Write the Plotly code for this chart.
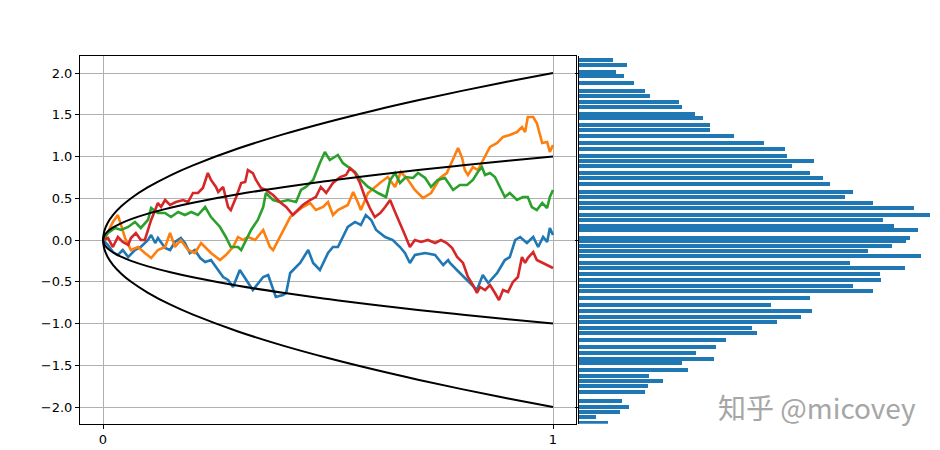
import plotly.graph_objects as go

# ---------------- data ----------------
# black envelope curves
bound_t = [0, 0.0025, 0.01, 0.0225, 0.04, 0.0625, 0.1, 0.15, 0.2, 0.3, 0.4, 0.5, 0.6, 0.7, 0.8, 0.9, 1.0]
outer_hi = [0, 0.1, 0.2, 0.3, 0.4, 0.5, 0.632, 0.775, 0.894, 1.095, 1.265, 1.414, 1.549, 1.673, 1.789, 1.897, 2.0]
outer_lo = [0, -0.1, -0.2, -0.3, -0.4, -0.5, -0.632, -0.775, -0.894, -1.095, -1.265, -1.414, -1.549, -1.673, -1.789, -1.897, -2.0]
inner_hi = [0, 0.05, 0.1, 0.15, 0.2, 0.25, 0.316, 0.387, 0.447, 0.548, 0.632, 0.707, 0.775, 0.837, 0.894, 0.949, 1.0]
inner_lo = [0, -0.05, -0.1, -0.15, -0.2, -0.25, -0.316, -0.387, -0.447, -0.548, -0.632, -0.707, -0.775, -0.837, -0.894, -0.949, -1.0]

blue_t = [0, .011, .022, .033, .044, .056, .071, .084, .1, .107, .116, .122, .138, .149, .160, .173, .182, .193, .204, .216,
          .227, .240, .251, .267, .278, .289, .304, .318, .333, .356, .367, .384, .4, .407, .416, .438, .456, .467, .482, .5,
          .511, .522, .544, .560, .573, .584, .596, .607, .627, .644, .66, .671, .682, .693, .716, .738, .756, .767, .771, .793,
          .816, .831, .844, .856, .876, .893, .904, .916, .927, .942, .956, .967, .978, .987, .993, 1.0]
blue_v = [0, -.06, -.144, -.18, -.12, -.204, -.12, -.084, 0, .06, -.036, .024, -.096, -.12, -.024, .024, -.036, -.156, -.12, -.216,
          -.263, -.24, -.323, -.443, -.479, -.563, -.359, -.479, -.599, -.443, -.419, -.683, -.659, -.635, -.395, -.275, -.12, -.275, -.359, -.156,
          -.084, -.084, .156, .216, .18, .299, .24, .12, .036, 0, -.084, -.156, -.275, -.18, -.156, -.18, -.299, -.24, -.275, -.395,
          -.515, -.599, -.419, -.515, -.395, -.24, -.204, 0, .036, -.036, .036, -.084, .036, -.024, .144, .06]

orange_t = [0, .011, .022, .033, .040, .049, .062, .078, .093, .107, .122, .138, .149, .160, .173, .189, .204, .218, .240, .260,
            .273, .289, .300, .311, .322, .338, .356, .371, .378, .389, .400, .416, .429, .444, .460, .473, .489, .500, .511, .522,
            .544, .556, .567, .573, .589, .604, .618, .633, .649, .662, .678, .693, .711, .729, .749, .764, .778, .789, .798, .804,
            .811, .822, .833, .844, .860, .876, .889, .904, .920, .931, .938, .944, .956, .964, .976, .987, .993, 1.0]
orange_v = [0, .096, .216, .299, .18, .024, -.12, -.084, -.156, -.216, -.12, -.084, .084, -.084, 0, -.12, -.156, -.036, -.156, -.24,
            -.18, -.084, .036, 0, .036, 0, .12, -.084, -.12, 0, .12, .275, .335, .395, .443, .359, .395, .455, .299, .359,
            .419, .575, .443, .359, .563, .635, .695, .754, .635, .814, .719, .599, .503, .563, .743, .802, .982, 1.102, .982, .838,
            .778, .874, .838, .958, 1.114, 1.162, 1.234, 1.257, 1.293, 1.353, 1.293, 1.473, 1.473, 1.401, 1.162, 1.174, 1.054, 1.138]

green_t = [0, .011, .027, .040, .056, .071, .084, .100, .107, .122, .138, .151, .167, .182, .196, .211, .227, .240, .260, .273,
           .284, .300, .307, .318, .329, .344, .356, .362, .378, .393, .411, .429, .440, .451, .467, .482, .493, .504, .522, .533,
           .544, .560, .573, .589, .600, .611, .629, .638, .649, .660, .673, .689, .700, .716, .729, .744, .760, .778, .793, .809,
           .822, .833, .842, .849, .860, .871, .882, .893, .904, .920, .933, .944, .953, .964, .976, .987, .993, 1.0]
green_v = [0, .084, .144, .12, .156, .216, .144, .24, .383, .323, .323, .275, .335, .299, .335, .299, .395, .275, .156, .036,
           -.084, -.084, -.12, 0, .12, .24, .395, .563, .479, .455, .479, .455, .599, .635, .719, .922, 1.054, .958, 1.018, .922,
           .874, .814, .719, .635, .599, .563, .515, .719, .802, .683, .754, .743, .802, .743, .635, .719, .743, .599, .659, .659,
           .719, .814, .874, .778, .802, .754, .635, .515, .563, .479, .515, .515, .395, .359, .443, .383, .515, .599]

red_t = [0, .011, .022, .033, .044, .056, .062, .073, .084, .093, .100, .107, .116, .122, .129, .138, .149, .162, .178, .189,
         .200, .211, .222, .233, .240, .251, .256, .267, .278, .284, .296, .307, .316, .322, .333, .340, .351, .362, .378, .393,
         .407, .422, .433, .444, .460, .473, .484, .496, .511, .527, .540, .549, .560, .571, .582, .593, .604, .616, .627, .638,
         .649, .660, .671, .682, .693, .707, .722, .738, .751, .764, .776, .787, .800, .811, .822, .831, .838, .849, .860, .871,
         .880, .889, .900, .911, .922, .931, .938, .944, .956, .964, .976, .987, 1.0]
red_v = [0, .024, -.084, .036, -.024, -.06, .024, .084, 0, 0, .12, .24, .359, .443, .395, .479, .419, .455, .479, .455,
         .563, .563, .623, .802, .719, .635, .575, .635, .395, .359, .515, .683, .695, .838, .802, .719, .623, .599, .539, .455,
         .395, .299, .359, .419, .479, .515, .635, .563, .683, .754, .778, .862, .802, .683, .515, .383, .275, .323, .395, .479,
         .335, .204, .06, -.084, 0, -.024, 0, -.036, 0, -.036, -.096, -.204, -.275, -.443, -.539, -.635, -.563, -.599, -.539, -.635,
         -.719, -.599, -.623, -.503, -.443, -.204, -.275, -.216, -.144, -.24, -.275, -.299, -.335]

# histogram panel: bin centres and bar lengths
hist_centers = [2.156, 2.096, 2.012, 1.964, 1.880, 1.784, 1.725, 1.653, 1.593, 1.509,
                1.461, 1.377, 1.317, 1.246, 1.162, 1.090, 1.006, 0.946, 0.886, 0.802,
                0.743, 0.671, 0.575, 0.515, 0.443, 0.383, 0.299, 0.240, 0.168, 0.120,
                0.024, -0.012, -0.072, -0.132, -0.192, -0.275, -0.335, -0.407, -0.479, -0.551,
                -0.611, -0.695, -0.778, -0.850, -0.922, -0.982, -1.054, -1.114, -1.198, -1.281,
                -1.353, -1.425, -1.473, -1.557, -1.629, -1.689, -1.749, -1.820, -1.928, -2.000,
                -2.060, -2.120, -2.192]
hist_counts = [34, 48, 37, 45, 55, 66, 71, 100, 103, 116,
               124, 131, 131, 155, 185, 206, 208, 235, 213, 231,
               244, 251, 274, 266, 294, 335, 351, 304, 315, 339,
               331, 327, 313, 289, 342, 271, 326, 301, 302, 274,
               294, 231, 192, 233, 222, 198, 173, 178, 147, 137,
               117, 135, 103, 109, 70, 84, 69, 66, 43, 50,
               41, 17, 29]

y_ticks = [2.0, 1.5, 1.0, 0.5, 0.0, -0.5, -1.0, -1.5, -2.0]
y_tick_labels = ["2.0", "1.5", "1.0", "0.5", "0.0", "\u22120.5", "\u22121.0", "\u22121.5", "\u22122.0"]
x_ticks = [0, 1]
x_tick_labels = ["0", "1"]

# ---------------- figure ----------------
W, H = 940, 450


def px_x(p):
    return p / W


def px_y(p):
    return 1 - p / H


fig = go.Figure()

colors = {"blue": "#1f77b4", "orange": "#ff7f0e", "green": "#2ca02c", "red": "#d62728"}
for name, tt, vv in [("blue", blue_t, blue_v), ("orange", orange_t, orange_v),
                     ("green", green_t, green_v), ("red", red_t, red_v)]:
    fig.add_trace(go.Scatter(x=tt, y=vv, mode="lines",
                             line=dict(color=colors[name], width=2.6), showlegend=False))

for yy in [outer_hi, outer_lo, inner_hi, inner_lo]:
    fig.add_trace(go.Scatter(x=bound_t, y=yy, mode="lines", line_shape="spline",
                             line=dict(color="black", width=2), showlegend=False))

fig.add_trace(go.Bar(x=hist_counts, y=hist_centers, orientation="h", width=0.046,
                     marker=dict(color="#1f77b4", line=dict(width=0)),
                     xaxis="x2", yaxis="y2", showlegend=False))

ydom = [px_y(423.7), px_y(56.3)]
font = dict(family="DejaVu Sans", size=13, color="black")
fig.update_layout(
    width=W, height=H, margin=dict(l=0, r=0, t=0, b=0),
    paper_bgcolor="white", plot_bgcolor="white", font=font, bargap=0,
    xaxis=dict(domain=[px_x(80), px_x(576)], range=[-0.0511, 1.0511],
               tickvals=x_ticks, ticktext=x_tick_labels,
               showgrid=True, gridcolor="#b0b0b0", gridwidth=1,
               showline=True, linecolor="black", linewidth=1, mirror=True,
               ticks="outside", ticklen=4, tickcolor="black", zeroline=False),
    yaxis=dict(domain=ydom, range=[-2.2, 2.2],
               tickvals=y_ticks, ticktext=y_tick_labels,
               showgrid=True, gridcolor="#b0b0b0", gridwidth=1,
               showline=True, linecolor="black", linewidth=1, mirror=True,
               ticks="outside", ticklen=4, tickcolor="black", zeroline=False),
    xaxis2=dict(domain=[px_x(579), px_x(930)], range=[0, 351], visible=False, anchor="y2"),
    yaxis2=dict(domain=ydom, range=[-2.2, 2.2], anchor="x2",
                showline=True, linecolor="black", linewidth=1.2,
                tickvals=[-2, 0, 2], ticks="outside", ticklen=3, tickcolor="black",
                showticklabels=False, showgrid=False, zeroline=False),
)

fig.add_annotation(text="知乎 @micovey", x=px_x(716), y=px_y(407), xref="paper", yref="paper",
                   xanchor="left", yanchor="middle", showarrow=False,
                   font=dict(family="Noto Sans CJK SC", size=28, color="#a6a6a6"))

# remove the default page margin so the figure sits at the window's top-left corner
page_js = ("document.body.style.margin='0';"
           "document.body.style.overflow='hidden';"
           "document.documentElement.style.overflow='hidden';")
fig.write_html("out.html", post_script=page_js, config={"displayModeBar": False})
